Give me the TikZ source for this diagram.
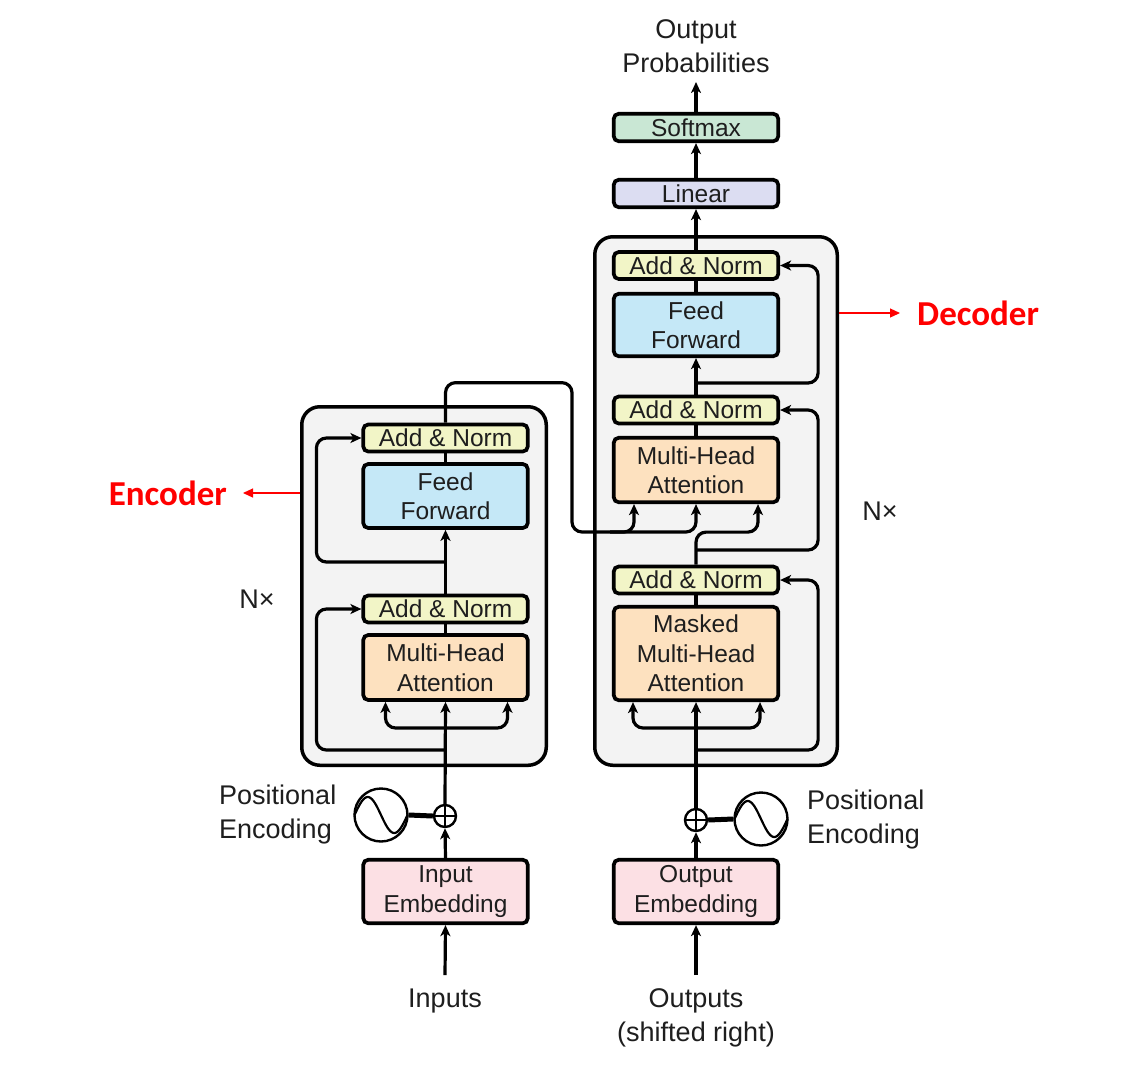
\documentclass[tikz,border=0pt]{standalone}
\usepackage{fontspec}
\setmainfont{Liberation Sans}
\newfontfamily\calibfont{Carlito}
\usetikzlibrary{arrows.meta,calc}
\definecolor{txt}{HTML}{1E1E1E}
\definecolor{cAN}{HTML}{F2F5C7}
\definecolor{cFF}{HTML}{C5E8F7}
\definecolor{cMHA}{HTML}{FDE1BF}
\definecolor{cEmb}{HTML}{FCE0E4}
\definecolor{cLin}{HTML}{DCDDF2}
\definecolor{cSoft}{HTML}{C9E7D4}
\definecolor{cBlock}{HTML}{F3F3F3}
\definecolor{cRed}{HTML}{FF0000}
\begin{document}
\begin{tikzpicture}[x=1pt,y=-1pt,
  box/.style={draw=black, line width=3.7pt, rounded corners=5pt, minimum width=164.5pt, inner sep=0pt, align=center, text=txt, font=\fontsize{24.5}{29.5}\selectfont},
  an/.style={box, fill=cAN, minimum height=27pt},
  ff/.style={box, fill=cFF, minimum height=64pt},
  mha/.style={box, fill=cMHA, minimum height=65pt},
  emb/.style={box, fill=cEmb, minimum height=63.5pt},
  conn/.style={line width=3.2pt, draw=black},
  arr/.style={conn, -{Stealth[length=11pt,width=10pt,inset=3pt]}},
  rc/.style={rounded corners=10pt},
  lbl/.style={text=txt, font=\fontsize{27}{34.5}\selectfont, inner sep=0pt},
  redarr/.style={draw=cRed, line width=1.2pt, -{Triangle[length=10pt,width=9pt]}},
  redlbl/.style={text=cRed, font=\calibfont\bfseries\fontsize{35}{40}\selectfont, inner sep=0pt},
  block/.style={draw=black, line width=3.5pt, fill=cBlock, rounded corners=18pt, inner sep=0pt},
  plusc/.style={circle, draw=black, fill=white, line width=2.4pt, minimum size=22pt, inner sep=0pt},
  sinc/.style={circle, draw=black, fill=white, line width=2.4pt, minimum size=53pt, inner sep=0pt},
]
\useasboundingbox[fill=white] (0,0) rectangle (1148,1080);

% blocks
\node[block, minimum width=244.5pt, minimum height=358.5pt] (eBlock) at (424,586) {};
\node[block, minimum width=242.5pt, minimum height=528.5pt] (dBlock) at (716,501) {};

% encoder boxes
\node[an]  (eAN2) at (445.5,438) {Add \& Norm};
\node[ff]  (eFF)  at (445.5,496) {Feed\\Forward};
\node[an]  (eAN1) at (445.5,609) {Add \& Norm};
\node[mha] (eMHA) at (445.5,667.5) {Multi-Head\\Attention};
\node[emb] (eEmb) at (445.5,891.5) {Input\\Embedding};

% decoder boxes
\node[box, fill=cSoft, minimum height=27.5pt] (soft) at (696,127.5) {Softmax};
\node[box, fill=cLin, minimum height=27.5pt] (lin) at (696,193.5) {Linear};
\node[an]  (dAN3) at (696,265.5) {Add \& Norm};
\node[ff, minimum height=62.5pt] (dFF) at (696,325) {Feed\\Forward};
\node[an]  (dAN2) at (696,410) {Add \& Norm};
\node[mha, minimum height=64.5pt] (dMHA) at (696,470) {Multi-Head\\Attention};
\node[an]  (dAN1) at (696,580) {Add \& Norm};
\node[mha, minimum height=93.5pt] (dMMHA) at (696,653.5) {Masked\\Multi-Head\\Attention};
\node[emb] (dEmb) at (696,891.5) {Output\\Embedding};

% positional encoding
\node[plusc] (eplus) at (445,816) {};
\node[sinc]  (esin)  at (381,815) {};
\node[plusc] (dplus) at (696,820) {};
\node[sinc]  (dsin)  at (761,819) {};
\draw[line width=5pt] (esin.east) -- (eplus.west);
\draw[line width=5pt] (dplus.east) -- (dsin.west);
\draw[line width=2.2pt] (eplus.north) -- (eplus.south) (eplus.west) -- (eplus.east);
\draw[line width=2.2pt] (dplus.north) -- (dplus.south) (dplus.west) -- (dplus.east);
\begin{scope}[shift={(esin)}]
  \draw[line width=2.2pt] plot[domain=-26.5:26.5, samples=60, smooth] (\x,{18*sin(\x/26.5*180)});
\end{scope}
\begin{scope}[shift={(dsin)}]
  \draw[line width=2.2pt] plot[domain=-26.5:26.5, samples=60, smooth] (\x,{18*sin(\x/26.5*180)});
\end{scope}

% labels
\node[lbl, align=center] (outprob) at (696,46) {Output\\Probabilities};
\node[lbl, align=left, anchor=west] (epos) at (219,814.5) {Positional\\Encoding};
\node[lbl, align=left, anchor=west] (dpos) at (807,819.5) {Positional\\Encoding};
\node[lbl] (inputs) at (445,1001) {Inputs};
\node[lbl, align=center] (outputs) at (696,1018) {Outputs\\(shifted right)};
\node[lbl] (eN) at (257,599) {N×};
\node[lbl] (dN) at (880,511) {N×};
\node[redlbl, anchor=east] (enclabel) at (227,493) {Encoder};
\node[redlbl, anchor=west] (declabel) at (917,313) {Decoder};
\draw[redarr] (eBlock.west |- enclabel) -- ([xshift=16pt]enclabel.east);
\draw[redarr] (dBlock.east |- declabel) -- ([xshift=-17pt]declabel.west);

% coordinates
\coordinate (inTail) at (445,975);
\coordinate (outTail) at (696,975);
\coordinate (probTail) at (696,82);
\coordinate (eFork) at (445,728);
\coordinate (eRes1) at (445,750);
\coordinate (eRes2) at (445,562);
\coordinate (dFork) at (696,728);
\coordinate (dRes1) at (696,750);
\coordinate (dRes2) at (696,550);
\coordinate (dRes3) at (696,383);
\coordinate (crossX) at (572,532);
\coordinate (kvBranch) at (610,532);

% encoder connectors
\draw[arr] (inTail) -- (eEmb.south);
\draw[arr] (eEmb.north) -- (eplus.south);
\draw[arr] (eplus.north) -- (eMHA.south);
\draw[arr,rc] (eFork) -| ($(eMHA.south)+(-60,0)$);
\draw[arr,rc] (eFork) -| ($(eMHA.south)+(62,0)$);
\draw[arr,rc] (eRes1) -| ($(eAN1.west)+(-45,0)$) -- (eAN1.west);
\draw[conn] (eMHA.north) -- (eAN1.south);
\draw[arr] (eAN1.north) -- (eFF.south);
\draw[arr,rc] (eRes2) -| ($(eAN2.west)+(-45,0)$) -- (eAN2.west);
\draw[conn] (eFF.north) -- (eAN2.south);
\draw[arr,rc] (eAN2.north) -- ++(0,-40) -| (crossX) -| (dMHA.south);
\draw[arr,rc] (kvBranch) -| ($(dMHA.south)+(-62,0)$);

% decoder connectors
\draw[arr] (outTail) -- (dEmb.south);
\draw[arr] (dEmb.north) -- (dplus.south);
\draw[arr] (dplus.north) -- (dMMHA.south);
\draw[arr,rc] (dFork) -| ($(dMMHA.south)+(-63,0)$);
\draw[arr,rc] (dFork) -| ($(dMMHA.south)+(64,0)$);
\draw[arr,rc] (dRes1) -| ($(dAN1.east)+(38,0)$) -- (dAN1.east);
\draw[conn] (dMMHA.north) -- (dAN1.south);
\draw[arr,rc] (dAN1.north) |- ($(dMHA.south)+(62,28)$) -- ($(dMHA.south)+(62,0)$);
\draw[arr,rc] (dRes2) -| ($(dAN2.east)+(38,0)$) -- (dAN2.east);
\draw[conn] (dMHA.north) -- (dAN2.south);
\draw[arr] (dAN2.north) -- (dFF.south);
\draw[arr,rc] (dRes3) -| ($(dAN3.east)+(38,0)$) -- (dAN3.east);
\draw[conn] (dFF.north) -- (dAN3.south);
\draw[arr] (dAN3.north) -- (lin.south);
\draw[arr] (lin.north) -- (soft.south);
\draw[arr] (soft.north) -- (probTail);
\end{tikzpicture}
\end{document}
